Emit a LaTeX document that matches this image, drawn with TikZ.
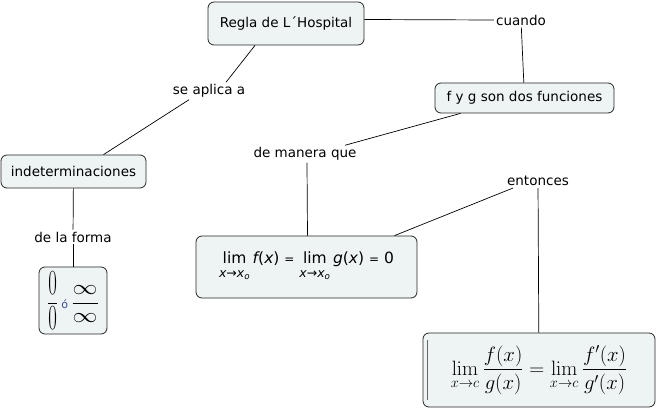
\documentclass[tikz,border=0pt]{standalone}
\usepackage{amsmath}
\usepackage[no-math]{fontspec}
\setmainfont{DejaVu Sans}
\usepackage{graphicx}
\begin{document}
\begin{tikzpicture}[x=1pt,y=-1pt,
  cbox/.style={draw=black!85, fill=boxfill, rounded corners=6pt, line width=0.8pt, inner sep=0pt, font=\fontsize{13.5}{16}\selectfont},
  lbl/.style={inner sep=2pt, font=\fontsize{13.5}{16}\selectfont},
  conn/.style={line width=0.7pt}]
\definecolor{boxfill}{HTML}{EEF4F4}
\definecolor{ocol}{HTML}{3A4A9A}
\useasboundingbox (0,0) rectangle (657,409);
% concepts
\node[cbox, minimum width=156pt, minimum height=43pt] (regla) at (286,23.5) {Regla de L´Hospital};
\node[cbox, minimum width=179pt, minimum height=30pt] (fyg) at (524.5,98) {f y g son dos funciones};
\node[cbox, minimum width=145pt, minimum height=33pt] (indet) at (73.5,171.5) {indeterminaciones};
\node[cbox, minimum width=68pt, minimum height=67pt] (frac) at (73,300.5)
  {\fontsize{20}{24}\selectfont$\dfrac{\scalebox{0.9}[1.7]{$0$}}{\scalebox{0.9}[1.7]{$0$}}$\,{\fontsize{11}{12}\selectfont\color{ocol}ó}\,$\dfrac{\scalebox{1.2}[1]{$\infty$}}{\scalebox{1.2}[1]{$\infty$}}$};
\node[cbox, minimum width=221pt, minimum height=62pt] (lim) at (306.5,267)
  {\fontsize{15.5}{18}\selectfont
   \begin{tabular}[t]{@{}c@{}}lim\\[-4pt]{\fontsize{12.5}{14}\selectfont\itshape x→x\textsubscript{o}}\end{tabular}\,%
   {\itshape f\upshape(\itshape x\upshape)} {\fontsize{12}{13}\selectfont =} %
   \begin{tabular}[t]{@{}c@{}}lim\\[-4pt]{\fontsize{12.5}{14}\selectfont\itshape x→x\textsubscript{o}}\end{tabular}\,%
   {\itshape g\upshape(\itshape x\upshape)} {\fontsize{12}{13}\selectfont =} 0};
\node[cbox, minimum width=232pt, minimum height=74pt] (final) at (539,370)
  {\fontsize{21}{25}\selectfont$\displaystyle\lim_{x\to c}\frac{f(x)}{g(x)}=\lim_{x\to c}\frac{f'(x)}{g'(x)}$};
\draw[black!60, line width=0.6pt] ([xshift=5pt,yshift=-7pt]final.north west) -- ([xshift=5pt,yshift=7pt]final.south west);
% labels
\node[lbl] (cuando) at (521,20) {cuando};
\node[lbl] (seaplica) at (209,91) {se aplica a};
\node[lbl] (delaforma) at (73,237) {de la forma};
\node[lbl] (demanera) at (305,154) {de manera que};
\node[lbl] (entonces) at (538,181) {entonces};
% connectors
\draw[conn] ([yshift=4pt]regla.east) -- (cuando.west);
\draw[conn] (cuando) -- (fyg);
\draw[conn] ([xshift=-31pt]regla.south) -- ([xshift=17pt]seaplica.north);
\draw[conn] ([xshift=-20pt]seaplica.south) -- ([xshift=30pt]indet.north);
\draw[conn] (indet) -- (delaforma);
\draw[conn] (delaforma) -- (frac);
\draw[conn] ([xshift=-64pt]fyg.south) -- ([xshift=40pt]demanera.north);
\draw[conn] ([xshift=2pt]demanera.south) -- ([xshift=1pt]lim.north);
\draw[conn] ([xshift=88pt]lim.north) -- ([xshift=-25pt]entonces.south);
\draw[conn] (entonces) -- (final);
\end{tikzpicture}
\end{document}
